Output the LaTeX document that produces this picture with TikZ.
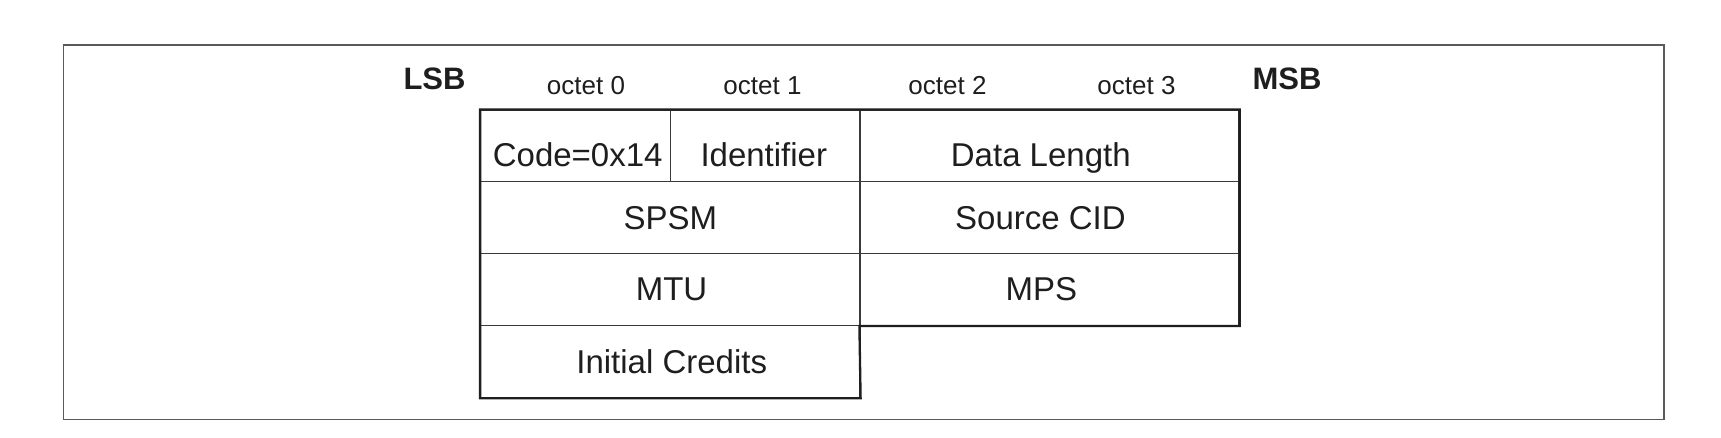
\documentclass[tikz,border=0pt]{standalone}
\usepackage{fontspec}
\setmainfont{Liberation Sans}
\definecolor{framegray}{HTML}{5A5A5A}
\definecolor{inkdark}{HTML}{1E1E1E}
\definecolor{gridgray}{HTML}{3A3A3A}
\begin{document}
\begin{tikzpicture}[x=1pt,y=-1pt,
  cellbox/.style={draw=gridgray, line width=1.2pt, inner sep=0pt, rectangle},
  celltext/.style={font=\fontsize{33}{36}\selectfont, text=inkdark, inner sep=0pt, text height=23.6pt, text depth=0pt},
  octettext/.style={font=\fontsize{26}{29}\selectfont, text=inkdark, inner sep=0pt, text height=18.6pt, text depth=0pt},
  bittext/.style={font=\fontsize{31}{34}\selectfont\bfseries, text=inkdark, inner sep=0pt, text height=22.2pt, text depth=0pt},
  outline/.style={draw=inkdark, line width=2.3pt, line join=miter},
  frame/.style={draw=framegray, line width=1.2pt}]
\useasboundingbox (0,0) rectangle (1721,437);
\node[frame, rectangle, inner sep=0pt, minimum width=1600.5pt, minimum height=374.3pt] (frame) at (863.75,232.15) {};

% cells
\node[cellbox, minimum width=190pt, minimum height=71.3pt] (code) at (575.7,145.65) {};
\node[cellbox, minimum width=189.3pt, minimum height=71.3pt] (ident) at (765.35,145.65) {};
\node[cellbox, minimum width=379pt, minimum height=71.3pt] (dlen) at (1049.5,145.65) {};
\node[cellbox, minimum width=379.3pt, minimum height=72pt] (spsm) at (670.35,217.3) {};
\node[cellbox, minimum width=379pt, minimum height=72pt] (scid) at (1049.5,217.3) {};
\node[cellbox, minimum width=379.3pt, minimum height=72pt] (mtu) at (670.35,289.3) {};
\node[cellbox, minimum width=379pt, minimum height=72pt] (mps) at (1049.5,289.3) {};
\node[cellbox, minimum width=379.3pt, minimum height=72.4pt] (ic) at (670.35,361.5) {};

\draw[outline] (code.north west) -- (dlen.north east) -- (mps.south east) -- (mps.south west)
  -- (ic.south east) -- (ic.south west) -- cycle;

% cell texts
\node[celltext] (tcode) at (577.7,154.2) {Code=0x14};
\node[celltext] (tident) at (763.8,154.2) {Identifier};
\node[celltext] (tdlen) at (1040.8,154.2) {Data Length};
\node[celltext] (tspsm) at (670.3,217.5) {SPSM};
\node[celltext] (tscid) at (1040.5,217.5) {Source CID};
\node[celltext] (tmtu) at (671.5,289) {MTU};
\node[celltext] (tmps) at (1041.3,289) {MPS};
\node[celltext] (tic) at (671.7,362) {Initial Credits};

% header
\node[octettext] (o0) at (586,85) {octet 0};
\node[octettext] (o1) at (762.5,85) {octet 1};
\node[octettext] (o2) at (947.5,85) {octet 2};
\node[octettext] (o3) at (1136.5,85) {octet 3};
\node[bittext] (lsb) at (434.5,78) {LSB};
\node[bittext] (msb) at (1287,78) {MSB};
\end{tikzpicture}
\end{document}
